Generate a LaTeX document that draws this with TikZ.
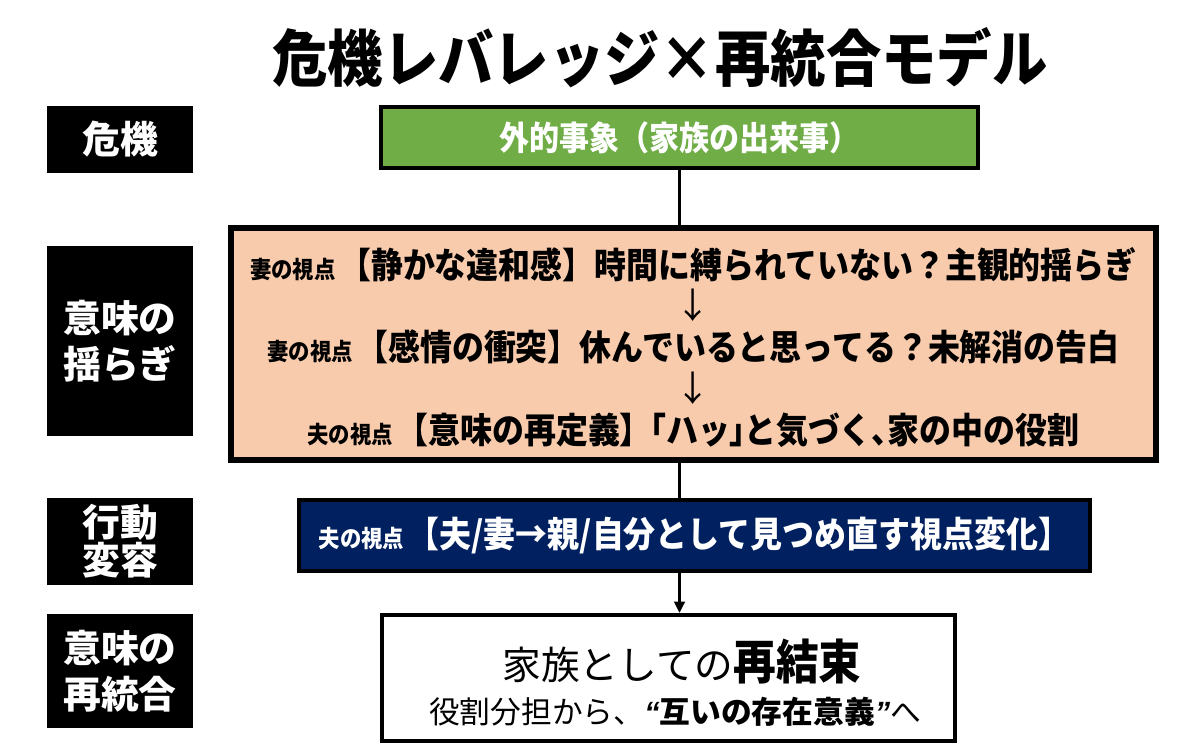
\documentclass[tikz,border=0pt]{standalone}
\usepackage{fontspec}
\setmainfont{Noto Sans CJK JP}
\newfontfamily\jpn{Noto Sans CJK JP}[FakeStretch=0.9]
\newfontfamily\lat{Liberation Sans}
\usetikzlibrary{arrows.meta}
\definecolor{evgreen}{HTML}{70AD47}
\definecolor{swaypeach}{HTML}{F8CBAD}
\definecolor{actnavy}{HTML}{002060}
\newcommand{\viewfont}{\jpn\bfseries\fontsize{13.5}{16}\selectfont}
\newcommand{\linefont}{\jpn\bfseries\fontsize{20.2}{24}\selectfont}
\tikzset{
  stagelabel/.style={fill=black, text=white, align=center, inner sep=0pt,
    minimum width=2.92cm, font=\bfseries\fontsize{21.5}{26}\selectfont},
  flowbox/.style={draw=black, line width=2.3pt, inner sep=0pt},
  conn/.style={line width=1.7pt}
}

\begin{document}
\begin{tikzpicture}[line cap=butt,line join=miter,>={Triangle[width=6pt,length=6.5pt]},x=0.02cm,y=-0.02cm]
\useasboundingbox (0,0) rectangle (1200,747);
\node (title) at (660,58) {\jpn\bfseries\fontsize{35}{40}\selectfont 危機レバレッジ×再統合モデル};
% stage labels on the left
\node [stagelabel, minimum height=1.34cm] (crisis) at (120,139.5) {危機};
\node [stagelabel, minimum height=3.8cm] (sway) at (120,341) {意味の\\揺らぎ};
\node [stagelabel, minimum height=1.74cm, font=\bfseries\fontsize{21.5}{21.5}\selectfont] (act) at (120,541.5) {行動\\変容};
\node [stagelabel, minimum height=2.28cm] (reunite) at (120,671) {意味の\\再統合};
% flow boxes
\node [flowbox, fill=evgreen, text=white, minimum width=11.94cm, minimum height=1.22cm,
  font=\jpn\bfseries\fontsize{19}{22}\selectfont] (event) at (679.5,137.5) {外的事象（家族の出来事）};
\node [flowbox, line width=3.4pt, fill=swaypeach, minimum width=18.5cm, minimum height=4.64cm] (swaybox) at (693.5,344) {};
\node (view1) at (693.5,265) {{\viewfont 妻の視点}\hspace{2pt}{\linefont 【静かな違和感】時間に縛られていない？主観的揺らぎ}};
\node (down1) at (693.5,305) {\fontsize{20}{24}\selectfont ↓};
\node (view2) at (693.5,347) {{\viewfont 妻の視点}\hspace{2pt}{\linefont 【感情の衝突】休んでいると思ってる？未解消の告白}};
\node (down2) at (693.5,388) {\fontsize{20}{24}\selectfont ↓};
\node (view3) at (693.5,430) {{\viewfont 夫の視点}\hspace{2pt}{\linefont 【意味の再定義】\kern-.5em「ハッ」\kern-.5em と気づく、\kern-.45em 家の中の役割}};
\node [flowbox, fill=actnavy, text=white, minimum width=15.82cm, minimum height=1.42cm] (actbox) at (694.5,535.5)
  {{\viewfont 夫の視点}\hspace{2pt}{\linefont 【夫/妻→親/自分として見つめ直す視点変化】}};
\node [flowbox, fill=white, minimum width=11.46cm, minimum height=2.52cm] (bond) at (668.5,678) {};
\node (bond1) at (682,662) {\fontsize{22}{26}\selectfont 家族としての{\jpn\bfseries\fontsize{27}{30}\selectfont 再結束}};
\node (bond2) at (675,712) {\fontsize{17.5}{21}\selectfont 役割分担から、{\lat\bfseries\itshape “}{\bfseries 互いの存在意義}{\lat\bfseries\itshape ”}へ};
% connectors
\draw [conn] (event.south) -- (event.south |- swaybox.north);
\draw [conn] (event.south |- swaybox.south) -- (event.south |- actbox.north);
\draw [conn,->] (event.south |- actbox.south) -- (event.south |- bond.north);
\end{tikzpicture}
\end{document}
